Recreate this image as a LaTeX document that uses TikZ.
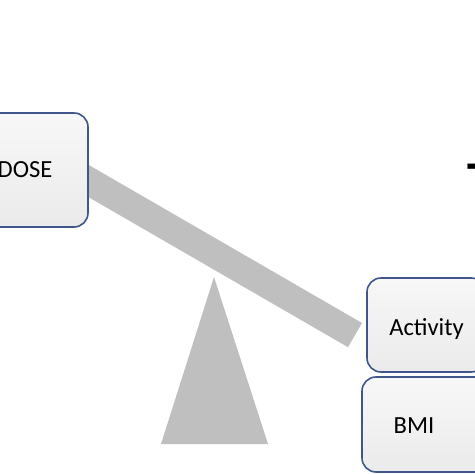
\documentclass[tikz,border=0pt]{standalone}
\usepackage{fontspec}
\setmainfont{Carlito}
\definecolor{boxblue}{RGB}{62,86,138}
\definecolor{beamgray}{RGB}{191,191,191}
\begin{document}
\begin{tikzpicture}[x=0.5pt,y=-0.5pt,
    sidebox/.style={draw=boxblue, line width=0.8pt, rounded corners=7pt,
        top color=black!3, bottom color=black!8,
        font=\fontsize{12}{14}\selectfont, text height=7.7pt, text depth=0pt, inner sep=0pt},
    boxtext/.style={font=\fontsize{12.3}{14}\selectfont, text height=7.9pt, text depth=0pt, inner sep=0pt},
    seesaw/.style={fill=beamgray, draw=none}]
    \useasboundingbox (0,0) rectangle (474,474);

    % Papan dan tumpuan
    \fill[seesaw] (81,160.5) -- (362,323) -- (348,347.2) -- (67,184.7) -- cycle;
    \fill[seesaw] (214,277) -- (268,444) -- (161,444) -- cycle;

    % Kotak kiri
    \node[sidebox, minimum width=62pt, minimum height=57pt] (dosebox) at (26,170) {};
    \node[boxtext] (dose) at (25,170) {DOSE};

    % Kotak kanan
    \node[sidebox, minimum width=59pt, minimum height=47pt] (activitybox) at (426,325) {};
    \node[boxtext] (activity) at (426.5,328) {Activity};
    \node[sidebox, minimum width=64pt, minimum height=47.5pt] (bmibox) at (426,424.5) {};
    \node[boxtext] (bmi) at (414,426) {BMI};

    % Potongan judul di tepi
    \node[font=\bfseries\fontsize{25}{30}\selectfont, anchor=north west, inner sep=0pt] (tmark) at (467,164) {T};
\end{tikzpicture}
\end{document}
